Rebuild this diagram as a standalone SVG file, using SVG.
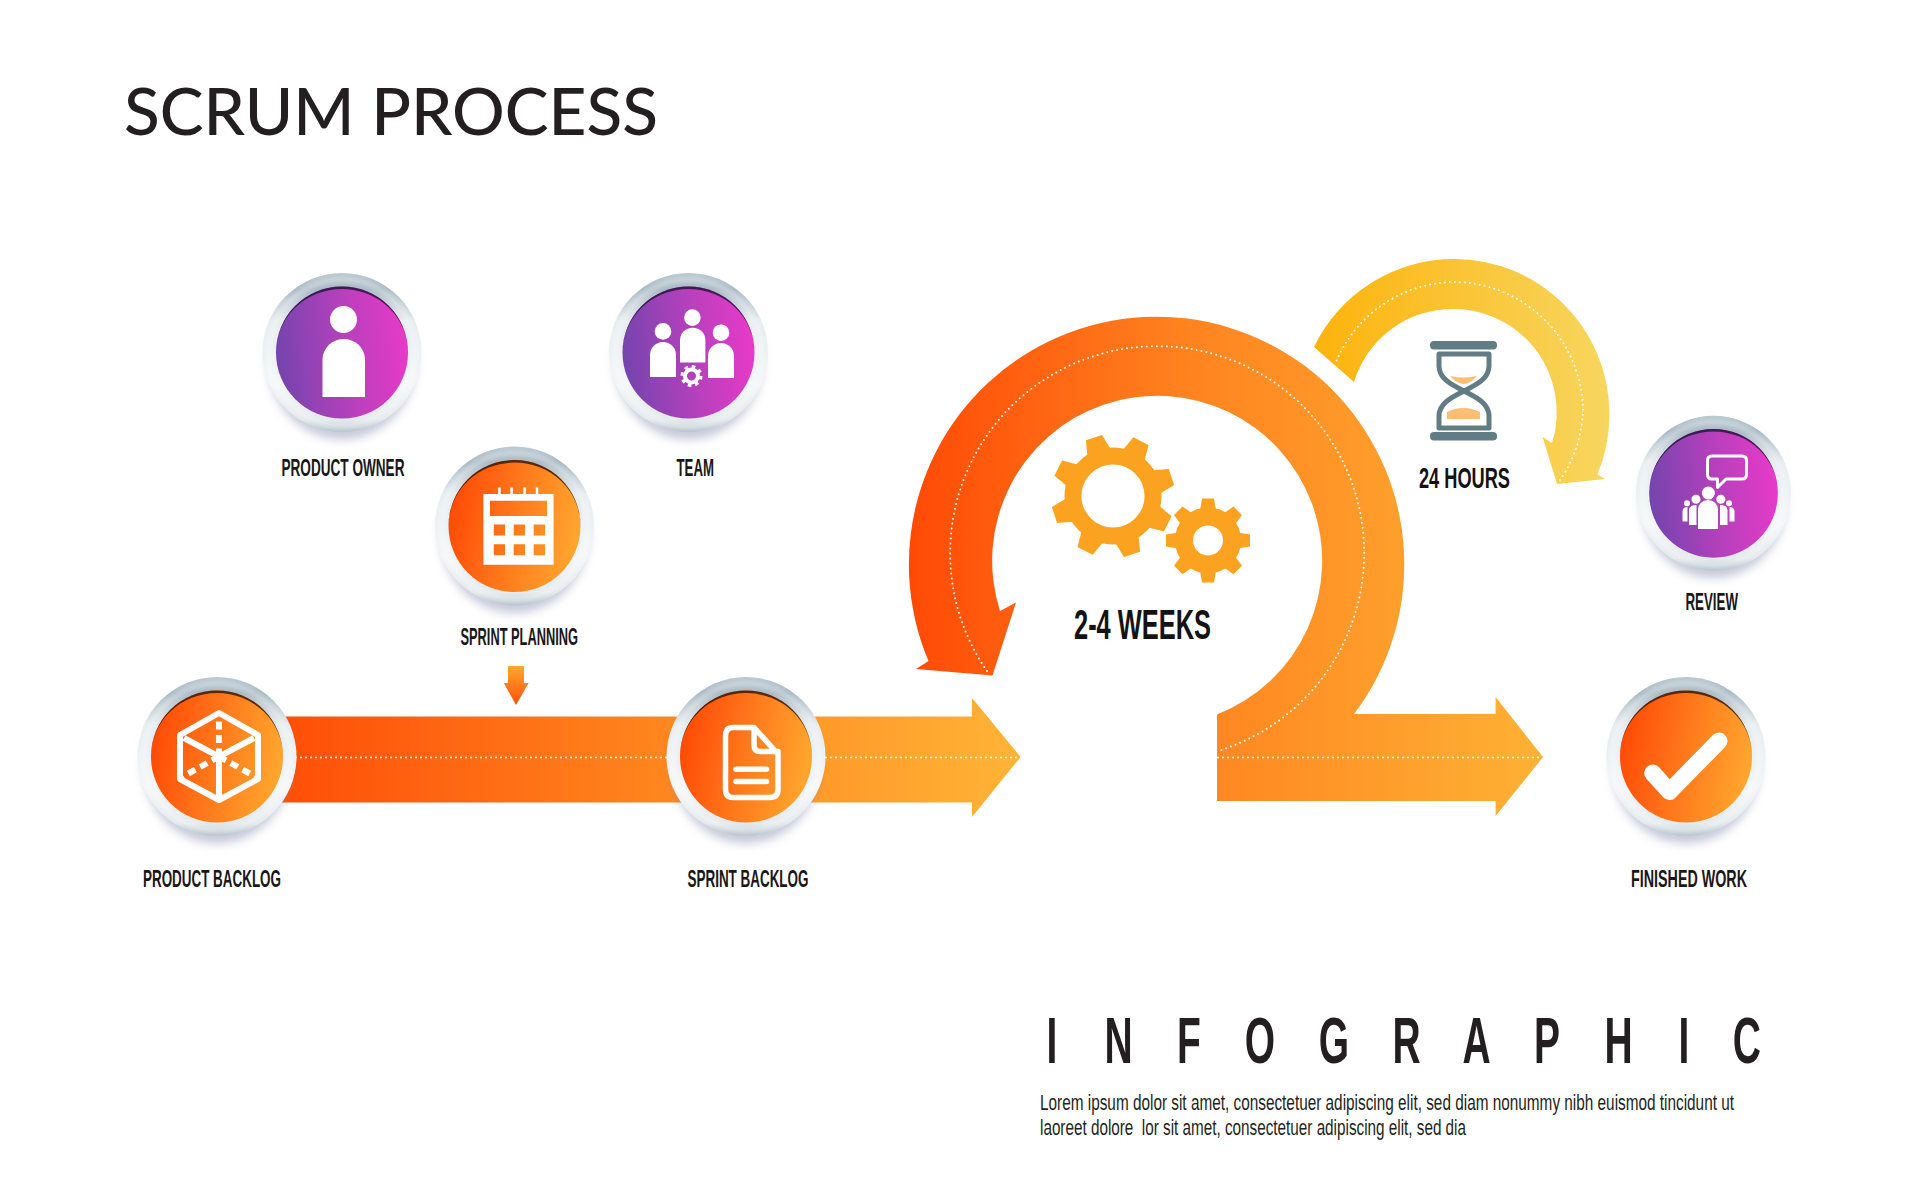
<svg xmlns="http://www.w3.org/2000/svg" xmlns:xlink="http://www.w3.org/1999/xlink" width="1920" height="1200" viewBox="0 0 1920 1200">
<style>
.lbl{font-family:"Liberation Sans Narrow","Liberation Sans",Arial,sans-serif;font-weight:700;font-size:23px;fill:#1a1718}
.big{font-family:"Liberation Sans Narrow","Liberation Sans",Arial,sans-serif;font-weight:700;fill:#141213}
.lorem{font-family:"Liberation Sans Narrow","Liberation Sans",Arial,sans-serif;font-size:22px;fill:#231f20}
.dots{fill:none;stroke:#fff;stroke-width:2;stroke-linecap:round;stroke-dasharray:0 5}
.ic{fill:#fff}
.ics{fill:none;stroke:#fff;stroke-linejoin:round}
.gear{fill:#fba321}
</style>
<defs>
<linearGradient id="main" gradientUnits="userSpaceOnUse" x1="909" y1="0" x2="1543" y2="0"><stop offset="0" stop-color="#ff4a06"/><stop offset=".45" stop-color="#ff8420"/><stop offset="1" stop-color="#feb234"/></linearGradient>
<linearGradient id="bar" gradientUnits="userSpaceOnUse" x1="290" y1="0" x2="1021" y2="0"><stop offset="0" stop-color="#ff4f08"/><stop offset=".55" stop-color="#ff8a20"/><stop offset="1" stop-color="#ffb436"/></linearGradient>
<linearGradient id="yel" gradientUnits="userSpaceOnUse" x1="1314" y1="0" x2="1609" y2="0"><stop offset="0" stop-color="#fdb30c"/><stop offset="1" stop-color="#f7d65f"/></linearGradient>
<linearGradient id="down" x1="0" y1="0" x2="0" y2="1"><stop offset="0" stop-color="#ffa82e"/><stop offset="1" stop-color="#ff4f08"/></linearGradient>
<linearGradient id="fillO" x1="0" y1=".4" x2="1" y2=".6"><stop offset="0" stop-color="#ff4a06"/><stop offset=".5" stop-color="#ff7a1c"/><stop offset="1" stop-color="#ffa82e"/></linearGradient>
<linearGradient id="fillP" x1="0" y1=".55" x2="1" y2=".45"><stop offset="0" stop-color="#7444ae"/><stop offset=".55" stop-color="#b840bc"/><stop offset="1" stop-color="#e83ac8"/></linearGradient>
<linearGradient id="ringG" x1="0" y1="0" x2="0" y2="1"><stop offset="0" stop-color="#b9c8d0"/><stop offset=".1" stop-color="#a9bac4"/><stop offset=".3" stop-color="#e6ecef"/><stop offset=".7" stop-color="#f4f6f7"/><stop offset=".92" stop-color="#e3e9ec"/><stop offset="1" stop-color="#b7c5cd"/></linearGradient>
<filter id="soft" x="-30%" y="-30%" width="160%" height="160%"><feGaussianBlur stdDeviation="5"/></filter>
<filter id="soft2" x="-30%" y="-30%" width="160%" height="160%"><feGaussianBlur stdDeviation="2.2"/></filter>
<g id="ring">
<ellipse cy="9" rx="74" ry="78" fill="#7c7fa8" opacity=".42" filter="url(#soft)"/>
<circle r="79.5" fill="url(#ringG)"/>
<circle r="73" fill="none" stroke="#fff" stroke-width="5" opacity=".35" filter="url(#soft2)"/>
</g>
<g id="discO"><use href="#ring"/><circle r="66" fill="url(#fillO)"/><path d="M-66,0A66,66 0 0 1 66,0A66,63.5 0 0 0 -66,0Z" fill="#3a1a10" opacity=".85"/></g>
<g id="discP"><use href="#ring"/><circle r="66" fill="url(#fillP)"/><path d="M-66,0A66,66 0 0 1 66,0A66,63.5 0 0 0 -66,0Z" fill="#2b1440" opacity=".85"/></g>
<path id="t1" d="M-12,-46L-8.5,-61.5H8.5L12,-46Z"/>
<path id="t2" d="M-8,-30L-6,-42H6L8,-30Z"/>
</defs>
<rect width="1920" height="1200" fill="#fff"/>

<g id="connectors">
<path d="M280,716.5H972V698L1020.6,757L972,817V802.6H280Z" fill="url(#bar)"/>
<path class="dots" d="M296,757.5H1020"/>
<path d="M992.5,675.5L916,669L928.5,661A247.7,247.7 0 1 1 1354,714H1495.6V697L1543,757L1495.6,816V801H1217V714.5A165,165 0 1 0 1000,611L1016,602.5Z" fill="url(#main)"/>
<path class="dots" d="M987,671A207,207 0 1 1 1218,751"/>
<path class="dots" d="M1218,757.5H1543"/>
<path d="M1314,347A155,155 0 0 1 1454.4,259A155,155 0 0 1 1609.4,412A155,155 0 0 1 1597.4,474.6L1605,479L1557,484L1542.6,437L1552,443A103,103 0 0 0 1556.7,412A103,103 0 0 0 1454,309A103,103 0 0 0 1354,382Z" fill="url(#yel)"/>
<path class="dots" d="M1336.6,360.5A130,130 0 0 1 1453,282A130,130 0 0 1 1583,410A130,130 0 0 1 1558.6,482"/>
<path d="M508,666H524V683H528.6L516,705L503.8,683H508Z" fill="url(#down)"/>
</g>

<g id="product-owner"><use href="#discP" x="342" y="352.5"/>
<circle class="ic" cx="343.5" cy="319.5" r="13.5"/>
<path class="ic" d="M322.5,397V358.5A21.3,21 0 0 1 365,358.5V397Z"/>
<text class="lbl" x="281.5" y="475.5" textLength="123" lengthAdjust="spacingAndGlyphs">PRODUCT OWNER</text></g>

<g id="team"><use href="#discP" x="688.5" y="352.5"/>
<circle class="ic" cx="692.4" cy="317.6" r="8.3"/><path class="ic" d="M680,362.4V340A12.7,12.3 0 0 1 705.4,340V362.4Z"/>
<circle class="ic" cx="663" cy="331.4" r="8.3"/><path class="ic" d="M650,377V355A13,13 0 0 1 676,355V377Z"/>
<circle class="ic" cx="721" cy="332.7" r="8.3"/><path class="ic" d="M708,378V356A13,13 0 0 1 734,356V378Z"/>
<circle cx="691.5" cy="376" r="6.5" fill="none" stroke="#fff" stroke-width="4"/>
<circle cx="691.5" cy="376" r="9.5" fill="none" stroke="#fff" stroke-width="3" stroke-dasharray="3.6 3.86"/>
<text class="lbl" x="676.5" y="475.5" textLength="37.5" lengthAdjust="spacingAndGlyphs">TEAM</text></g>

<g id="sprint-planning"><g transform="translate(0,-4)"><use href="#discO" x="514.5" y="530"/>
<path class="ic" fill-rule="evenodd" d="M483.4,498H553.6V568.8H483.4ZM490,504.8V520H547V504.8ZM493.8,528.4V539.5H505V528.4ZM513.7,528.4V539.5H525V528.4ZM533.7,528.4V539.5H545V528.4ZM493.8,548.2V559.3H505V548.2ZM513.7,548.2V559.3H525V548.2ZM533.7,548.2V559.3H545V548.2Z"/>
<path d="M499.4,491.6V498M511.6,491.6V498M524.6,491.6V498M537,491.6V498" stroke="#fff" stroke-width="2.5" fill="none"/>
<text class="lbl" x="460.5" y="649" textLength="117.5" lengthAdjust="spacingAndGlyphs">SPRINT PLANNING</text></g></g>

<g id="product-backlog"><use href="#discO" x="217" y="756.5"/>
<path class="ics" stroke-width="6" d="M219,713L258,735V779L219,800L180,779V735ZM184,738L219,756.6L254,738M219,756.6V800"/>
<path class="ics" stroke-width="6" stroke-dasharray="8 5.5" d="M219,756.6V716M219,756.6L182,777M219,756.6L256,777"/>
<text class="lbl" x="143" y="887" textLength="138" lengthAdjust="spacingAndGlyphs">PRODUCT BACKLOG</text></g>

<g id="sprint-backlog"><use href="#discO" x="746" y="756.5"/>
<path class="ics" stroke-width="5.5" stroke-linecap="round" d="M733,727.5H754L778,754V789Q778,797.5 770,797.5H733Q725.5,797.5 725.5,789V736Q725.5,727.5 733,727.5ZM754,727.5V745Q754,751.5 760,751.5H778M736,769.3H766.5M736,781.6H766.5"/>
<text class="lbl" x="687.5" y="887" textLength="121" lengthAdjust="spacingAndGlyphs">SPRINT BACKLOG</text></g>

<g id="review"><g transform="translate(0,-2.5)"><use href="#discP" x="0" y="0" transform="translate(1713.5,495.8) scale(.975)"/>
<path class="ics" stroke-width="3" d="M1712,458.5H1742Q1746.5,458.5 1746.5,463V477Q1746.5,481.5 1742,481.5H1726L1717.5,490V481.5H1712Q1707.5,481.5 1707.5,477V463Q1707.5,458.5 1712,458.5Z"/>
<circle class="ic" cx="1708.4" cy="495.6" r="6.5"/><path class="ic" d="M1698,531.5V512A10,9.5 0 0 1 1718,512V531.5Z"/>
<circle class="ic" cx="1696" cy="501.7" r="4.5"/><circle class="ic" cx="1720.8" cy="501.7" r="4.5"/>
<path class="ic" d="M1689,527.5V513Q1689,507.5 1696.5,507.5V527.5ZM1720,507.5Q1727.5,507.5 1727.5,513V527.5H1720Z"/>
<circle class="ic" cx="1687" cy="505.7" r="3"/><circle class="ic" cx="1729" cy="505.7" r="3"/>
<path class="ic" d="M1682.5,524V514Q1682.5,509.5 1687.5,509.5V524ZM1729.5,509.5Q1734.5,509.5 1734.5,514V524H1729.5Z"/>
<text class="lbl" x="1685.5" y="612.5" textLength="52.5" lengthAdjust="spacingAndGlyphs">REVIEW</text></g></g>

<g id="finished-work"><use href="#discO" x="1686" y="756.5"/>
<path class="ics" stroke-width="17" stroke-linecap="round" d="M1652.7,773L1669.5,791.6L1719,741"/>
<text class="lbl" x="1631" y="887" textLength="116" lengthAdjust="spacingAndGlyphs">FINISHED WORK</text></g>

<g id="weeks">
<g class="gear" transform="translate(1113,496)">
<circle r="40" fill="none" stroke="#fba321" stroke-width="17"/>
<use href="#t1" transform="rotate(-18)"/><use href="#t1" transform="rotate(27)"/><use href="#t1" transform="rotate(72)"/><use href="#t1" transform="rotate(117)"/><use href="#t1" transform="rotate(162)"/><use href="#t1" transform="rotate(207)"/><use href="#t1" transform="rotate(252)"/><use href="#t1" transform="rotate(297)"/>
</g>
<g class="gear" transform="translate(1208,540.4)">
<circle r="24" fill="none" stroke="#fba321" stroke-width="18"/>
<use href="#t2" transform="rotate(0)"/><use href="#t2" transform="rotate(45)"/><use href="#t2" transform="rotate(90)"/><use href="#t2" transform="rotate(135)"/><use href="#t2" transform="rotate(180)"/><use href="#t2" transform="rotate(225)"/><use href="#t2" transform="rotate(270)"/><use href="#t2" transform="rotate(315)"/>
</g>
<text class="big" x="1074" y="639" font-size="42" textLength="137" lengthAdjust="spacingAndGlyphs">2-4 WEEKS</text>
</g>

<g id="hours">
<rect x="1430" y="341" width="67" height="8.5" rx="4" fill="#627c85"/>
<rect x="1430" y="432" width="67" height="8.5" rx="4" fill="#627c85"/>
<path d="M1439,354H1489V366C1489,378 1478,384 1464,391C1450,398 1439,404 1439,416V428H1489V416C1489,404 1478,398 1464,391C1450,384 1439,378 1439,366Z" fill="none" stroke="#627c85" stroke-width="5" stroke-linejoin="round"/>
<path d="M1450,376Q1463,379 1477,376Q1470,384 1463.6,384Q1456,383 1450,376ZM1447,419V412Q1463,404 1480,412V419Z" fill="#fdbd72"/>
<text class="big" x="1419" y="488" font-size="30" textLength="91" lengthAdjust="spacingAndGlyphs">24 HOURS</text>
</g>

<g id="title"><text x="124" y="135" font-family="Lato,'Liberation Sans',sans-serif" font-weight="500" font-size="65" fill="#231f20" textLength="534" lengthAdjust="spacingAndGlyphs">SCRUM PROCESS</text></g>

<g id="footer">
<text transform="translate(1052,1063) scale(.6,1)" class="big" style="fill:#231f20" font-size="65" text-anchor="middle" x="0 110.8 228.3 346.7 470 591 707.8 825 944.2 1053.3 1158" y="0">INFOGRAPHIC</text>
<text class="lorem" x="1040" y="1110" textLength="694" lengthAdjust="spacingAndGlyphs">Lorem ipsum dolor sit amet, consectetuer adipiscing elit, sed diam nonummy nibh euismod tincidunt ut</text>
<text class="lorem" xml:space="preserve" x="1040" y="1135" textLength="426" lengthAdjust="spacingAndGlyphs">laoreet dolore  lor sit amet, consectetuer adipiscing elit, sed dia</text>
</g>
</svg>
